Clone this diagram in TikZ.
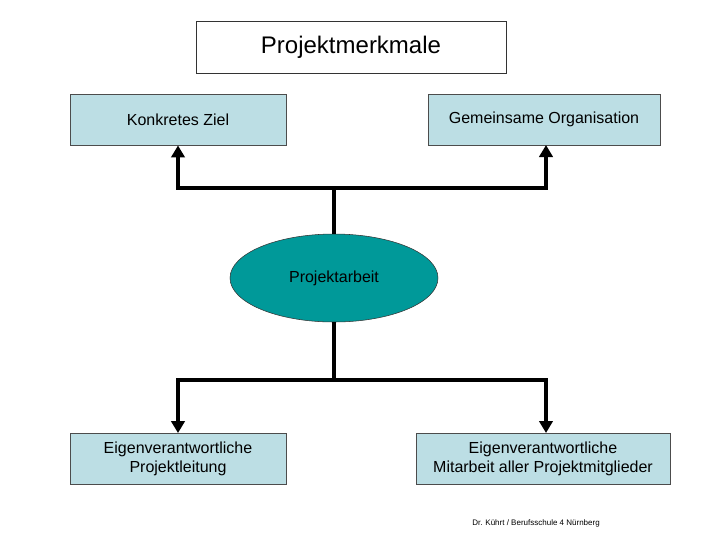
\documentclass[tikz,border=0pt]{standalone}
\usepackage{fontspec}
\setmainfont{Liberation Sans}
\usetikzlibrary{arrows.meta,shapes.geometric}
\begin{document}
\begin{tikzpicture}[x=0.75pt,y=-0.75pt,
  box/.style={draw=black!70,fill=boxblue,minimum height=38.5pt,align=center,font=\fontsize{12}{14}\selectfont,inner sep=0pt},
  conn/.style={line width=3.2pt,-{Triangle[length=9pt,width=10pt]}},
  link/.style={line width=3.2pt}]
\definecolor{boxblue}{RGB}{188,222,228}
\definecolor{teal2}{RGB}{0,153,153}
\useasboundingbox (0,0) rectangle (720,540);
\node[draw=black!80,fill=white,minimum width=232.5pt,minimum height=39pt,font=\fontsize{18}{20}\selectfont,inner sep=0pt] (title) at (351,47) {Projektmerkmale};
\node[box,minimum width=162pt] (ziel) at (178,119.5) {Konkretes Ziel};
\node[box,minimum width=174pt] (org) at (544,119.5) {Gemeinsame Organisation};
\node[ellipse,draw=black!80,fill=teal2,minimum width=156pt,minimum height=66pt,font=\fontsize{12}{14}\selectfont,inner sep=0pt] (pa) at (334,278) {Projektarbeit};
\node[box,minimum width=162pt] (lei) at (178,459) {Eigenverantwortliche\\Projektleitung};
\node[box,minimum width=190.5pt] (mit) at (543,459) {Eigenverantwortliche\\Mitarbeit aller Projektmitglieder};
\node[font=\fontsize{6}{7}\selectfont] (foot) at (536,523) {Dr. Kührt / Berufsschule 4 Nürnberg};
\coordinate (j1) at (334,188);
\coordinate (j2) at (334,380);
\draw[link] (pa.north) -- (j1);
\draw[conn] (j1) -| (ziel.south);
\draw[conn] (j1) -| (546,145) coordinate (oe);
\draw[link] (pa.south) -- (j2);
\draw[conn] (j2) -| (lei.north);
\draw[conn] (j2) -| (546,433) coordinate (me);
\end{tikzpicture}
\end{document}
